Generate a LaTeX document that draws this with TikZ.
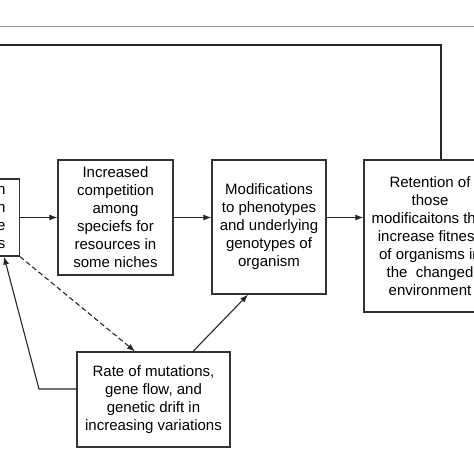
\documentclass[tikz,border=0pt]{standalone}
\usepackage{fontspec}
\setmainfont{Liberation Sans}
\usetikzlibrary{arrows.meta,positioning}

\begin{document}
\begin{tikzpicture}[x=1pt,y=-1pt]
\tikzstyle{box}=[draw=black!80,line width=1.2pt,align=center,inner sep=0pt,font=\fontsize{15}{18}\selectfont]
\tikzstyle{arr}=[draw=black!85,line width=1.1pt,-{Latex[length=8pt,width=6pt]}]
\useasboundingbox (0,0) rectangle (474,474);
\clip (0,0) rectangle (474,474);
% top rules
\draw [black!40,line width=1pt] (0,26) -- (474,26);
\node [box,anchor=east,text width=40pt,inner xsep=14pt,minimum height=77pt,align=right] (env) at (20,217.5) {n\\n\\e\\s};
\node [box,minimum width=115pt,minimum height=115pt] (comp) at (115.5,217.5) {Increased\\competition\\among\\speciefs for\\resources in\\some niches};
\node [box,minimum width=114pt,minimum height=134pt] (modif) at (269,227) {Modifications\\to phenotypes\\and underlying\\genotypes of\\organism};
\node [box,minimum width=132pt,minimum height=152pt] (retain) at (430,236) {Retention of\\those\\modificaitons that\\increase fitness\\of organisms in\\the\ \ changed\\environment};
\node [box,minimum width=153pt,minimum height=95pt] (rate) at (153.5,399.5) {Rate of mutations,\\gene flow, and\\genetic drift in\\increasing variations};
\coordinate (back) at (0,45);
\coordinate (bend) at (39,389);
% forward chain
\draw [arr] (env.east |- comp) -- (comp.west);
\draw [arr] (comp.east) -- (comp.east -| modif.west);
\draw [arr] (modif.east |- comp) -- (retain.west |- comp);
% feedback
\draw [draw=black!85,line width=1.3pt] (retain.north -| 441,0) -- (441,45) -- (back);
% variation links
\draw [arr,dash pattern=on 5pt off 3pt] (env.south east) -- (rate.north -| 135,0);
\draw [arr] (rate.north -| 193,0) -- (modif.south -| 248,0);
\draw [arr] (rate.west |- bend) -- (bend) -- (env.south -| 4,0);
\end{tikzpicture}
\end{document}
